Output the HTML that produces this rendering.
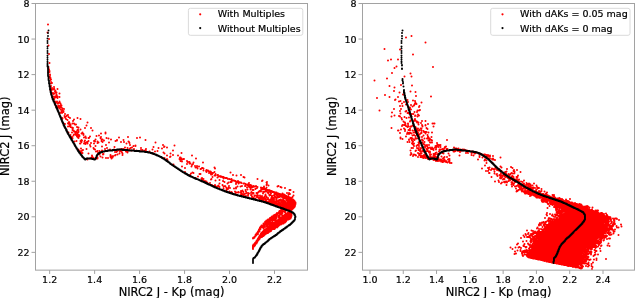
<!DOCTYPE html>
<html><head><meta charset="utf-8"><title>CMD</title>
<style>
html,body{margin:0;padding:0;background:#fff;}
body{width:635px;height:298px;overflow:hidden;}
svg{display:block;}
text{font-family:"DejaVu Sans","Liberation Sans",sans-serif;fill:#000;stroke:#000;stroke-width:0.2px;}
.tk{font-size:9.5px;}
.lg{font-size:9.5px;}
.lb{font-size:11.45px;}
</style></head><body>
<svg width="635" height="298" viewBox="0 0 635 298"><rect width="635" height="298" fill="#ffffff"/><g><path d="M48 24.5h0M47.5 32.5h0M49 39h0M48.5 45.5h0M49 54h0M49.5 63h0M48.5 67h0M48.5 68.5h0M49 69.5h0M49.5 71h0M49.5 72h0M48.5 72.5h0M50 74.5h0M50 76h0M49 77.5h0M50 78h0.5M51 79.5h0M50.5 80h0M51 82h0M52 83h0M51 83.5h0M51 86h0M54 87h0M52 88h0M51 88.5h0M54 88.5h0M51.5 89h0.5M57.5 89h0M52.5 89.5h0M54 89.5h0.5M50.5 90h1M55.5 91h0M55 91.5h0M51 92.5h0.5M56 92.5h0.5M53 93h0M54.5 93.5h0M59.5 93.5h0M53.5 94h0M51.5 94.5h0M56.5 94.5h0M56 96h1M52.5 96.5h0M54 96.5h0M57.5 96.5h0M55.5 97h1M59.5 97h0M57.5 98h0M54 98.5h0.5M53.5 99.5h0.5M55 101.5h0M57 101.5h0M59.5 101.5h0M56.5 102.5h0M58.5 103h0M60 103h0M55 103.5h0M57.5 103.5h0M60.5 103.5h0M55 104.5h0M61 105h0M58.5 105.5h0M61.5 105.5h0M56.5 106h0M60 106h0M59 106.5h0.5M58 107h0M60 107h0M56.5 107.5h0M61.5 107.5h0M59.5 108h0M62.5 108.5h0M57.5 109h0M64 109h0M60.5 109.5h0M62 110h0M63.5 111h0M61.5 111.5h0M61.5 112h0M63 112h0.5M60 113h0M62 113h0M65 114h0M68 115h0M67 115.5h0M64.5 116h0M66 116.5h0M68.5 117h0M65 117.5h0M62.5 118h0M70 118h0M77.5 118h0M62.5 118.5h0M66 119h0M80.5 119h0M74 119.5h0M67.5 120h0M73 121h0M69 122h0M68.5 122.5h0.5M87.5 122.5h0M69.5 123h0M63.5 123.5h0M68 123.5h0M72.5 123.5h0M74 123.5h0M65 124h0M69 124h0M70.5 124.5h0M75 124.5h1M70.5 125.5h0M86.5 125.5h0M69.5 126h0M68 126.5h0M70.5 127h0M77 127h0M72 127.5h0M78.5 127.5h0M73 128h0M85 128h0M91 128h0M72.5 128.5h0M66.5 129.5h0M78 129.5h0M80.5 129.5h0M72.5 130h0M77.5 130h0M73.5 130.5h0M92.5 130.5h0M74 131h0M78.5 131h0M74 131.5h0.5M76.5 131.5h0M75 132h1M78.5 132h0M68 132.5h0.5M72 132.5h0M75.5 132.5h0M82.5 132.5h0M105.5 132.5h0M77.5 133h0M75.5 133.5h0M77.5 133.5h0M81.5 133.5h1M101 133.5h0M105.5 133.5h0M83.5 134h0M74 134.5h0M76 134.5h0.5M78 134.5h0M70.5 135h0M76 135h0.5M79 135h0M83.5 135h0M73.5 135.5h0M99 135.5h0M77 136h0M79.5 136h0M96.5 136h0M77 136.5h2M85.5 136.5h0M90 136.5h0M71 137h1M101 137h0M128 137h0M78 137.5h0M84 137.5h0M119 137.5h0M140 137.5h0M72.5 138h0M78.5 138h0M86 138h0M88.5 138h0.5M100.5 138h0M106.5 138h0M137 138h0M72.5 138.5h0M108.5 138.5h0M95.5 139.5h0M101.5 139.5h1M111 139.5h0M81.5 140h0M117 140h0M123.5 140h0M145.5 140h0M82 140.5h0M85 140.5h0M104 140.5h0M117 140.5h0M76.5 141h0M80.5 141h0M88.5 141h0M94 141h0M101.5 141h0M115.5 141h0M74.5 141.5h0M84.5 141.5h0M95 141.5h0M97.5 141.5h0M128.5 141.5h0M81.5 142h0M87 142h0.5M102.5 142h0M121 142h0M124 142h0M129 142h0M98.5 142.5h0M109 142.5h0M155.5 142.5h0M85.5 143h0M91 143h0M97.5 143h0M129.5 143h0M80 143.5h0.5M84 143.5h0M87.5 143.5h0M94 143.5h0M126.5 143.5h0M85.5 144h0M90 145h0M106 145h0M130 145h0M163 145h0M135.5 145.5h0M174.5 145.5h0M95.5 146h0M133.5 146h0M135.5 146h0M90.5 146.5h0M102 146.5h0M164.5 146.5h0M114.5 147h0M153.5 147h0M164 147h0M125 147.5h0M132 147.5h0M167 147.5h0M93.5 148h0M107 148h0M127.5 148h0M130.5 148h0M141 148h0M158.5 148h0M81 148.5h0M162 148.5h0M86.5 149h0M94 149h0M105 149h0M121.5 149h0M123.5 149h0M129.5 149h0M134 149h0M146 149h0M78.5 149.5h0M95 149.5h0M110 149.5h0M114 149.5h0M120 149.5h0M152.5 149.5h0M83 150h0M117.5 150h1M120.5 150h0M141 150h0M142.5 150h0M82 150.5h0M102 150.5h0M108 150.5h0M117.5 150.5h0M131.5 150.5h0M136.5 150.5h0M145 150.5h0M173 150.5h0M80 151h0M97.5 151h0M99.5 151h0M117.5 151h0M121.5 151h0M127.5 151h0M143 151h0M146 151h0M157.5 151h0M96 151.5h0M120 151.5h0M126 151.5h0M145 151.5h0M149.5 151.5h0M155 151.5h0M81.5 152h0M115 152h0M116.5 152h0M80.5 152.5h0M122 152.5h0M127.5 152.5h0M163.5 152.5h0M82.5 153h0M98 153h0M151.5 153h1M181.5 153h0M81 153.5h0M88.5 153.5h0M119.5 153.5h0M122.5 153.5h0M153 153.5h0M164.5 153.5h0M170.5 153.5h0M103 154h0.5M99.5 154.5h0M103 154.5h0M117.5 154.5h0M110.5 155h0M115.5 155h0M122.5 155h0M173 155h0M92 155.5h0M115 155.5h0M167 155.5h0M178 155.5h0M192 155.5h0M110.5 156h0M113 156h0M100.5 156.5h0M111.5 156.5h0M113 156.5h0M170.5 156.5h0M92.5 157h0M110.5 157h0M170 157h0M91.5 157.5h0M97.5 157.5h0M102.5 157.5h0M112.5 157.5h0M180 157.5h0.5M93.5 158h0M96.5 158h0M106 158h0M108 158h0M164.5 158h0M87.5 158.5h0M90 158.5h0M95.5 158.5h0M97 158.5h0.5M111.5 158.5h0M181.5 158.5h0M196 158.5h0M167 159h0M179.5 159h0M181 159h0M183.5 159h0.5M87.5 159.5h0M167 159.5h0M180 159.5h0M182 159.5h0M167.5 160h0M180.5 161h0M187 161h0M182 161.5h0M187.5 162h0M189 162h0.5M193.5 162.5h0M203 162.5h0M189.5 163.5h1M187 164h0M193 164h0M173.5 164.5h0M192 165h0M195 166h0M197 166h0M182 166.5h0M191.5 166.5h0M199 166.5h0M197 167h0M195.5 167.5h0M214.5 167.5h0M185 168h0M202 168h0.5M197.5 168.5h0M203.5 168.5h0M215 168.5h0M200.5 169h0.5M206.5 170h0M203.5 170.5h0M206.5 170.5h1.5M206 171h0M208.5 171h0M210 171.5h0.5M185 172h0M206.5 172h0M211 172h0M214.5 172h0M192.5 172.5h0M211 172.5h0M230.5 172.5h0M193.5 173h0M209 173h0M210.5 173h0M212.5 173h0.5M191 173.5h0M199.5 174h1M215.5 174h0M211 174.5h1M190 175h0M217.5 175h0.5M233 175h0M241 175h0M214.5 175.5h1M236.5 175.5h0M220 176h0M198 176.5h0M218.5 176.5h0M220 176.5h1.5M212.5 177h0M221 177h0M222.5 177h1M243.5 177h0M217.5 177.5h0M224 177.5h0M244.5 177.5h0M195.5 178h0M202 178h0M225.5 178h1M201.5 178.5h0M223.5 178.5h0M227.5 178.5h0M203.5 179h0M211.5 179h0M228 179h0M229.5 179h0M231.5 179h0M257.5 179h0M202 179.5h0M211 179.5h0M231 179.5h0M219.5 180h0M231.5 180h0M201.5 180.5h0M215.5 180.5h0M232.5 180.5h1.5M262.5 180.5h0M203.5 181h0M205 181h0M223 181h0M235 181h0.5M238 181h0M262 181h0M206.5 181.5h0M236 181.5h0M224.5 182h0M230.5 182h1M237.5 182h1.5M267 182h0M228.5 182.5h0M239.5 182.5h1.5M266.5 182.5h0M207.5 183h0M210 183h0M236 183h0M238.5 183h0M241.5 183h0M249 183h0M219.5 183.5h0M227.5 183.5h0M238.5 183.5h0M243.5 183.5h1M236 184h0M245.5 184h0M267 184h0M247 184.5h1.5M212 185h0M215 185h0M222.5 185h0M247.5 185h0M249 185h1.5M266.5 185h0M218.5 185.5h0M251 185.5h0.5M268.5 185.5h0M214 186h0M218 186h0M225 186h0M229 186h0M242 186h0M245 186h0.5M253.5 186h0M256 186h0M278.5 186h0M216 186.5h0M223.5 186.5h0M225.5 186.5h0M237.5 186.5h0M240.5 186.5h0M248.5 186.5h0M253.5 186.5h1M264 186.5h0M277.5 186.5h0M217 187h0M219.5 187h0M249.5 187h0M251 187h2M257.5 187h0M280.5 187h0M228.5 187.5h0M236 187.5h0M247 187.5h0M252 187.5h0M261 187.5h0M264 187.5h0M266.5 187.5h0M281.5 187.5h0M226.5 188h0M230 188h0M257 188h0M261 188h1.5M264 188h0M285 188h0M223.5 188.5h0M234 188.5h0M236 188.5h0M250.5 188.5h0M255.5 188.5h0M262 188.5h0M227.5 189h0.5M255.5 189h0M264 189h0M265.5 189h0M226.5 189.5h0M247.5 189.5h0M250.5 189.5h0M261.5 189.5h0M263 189.5h0M266 189.5h0.5M245.5 190h0M252.5 190h1M261 190h0M265.5 190h2M269 190h0M289.5 190h1M226.5 190.5h0M242.5 190.5h0M269 190.5h1M241 191h0M259.5 191h0M266.5 191h0.5M269 191h0M270.5 191h1M229.5 191.5h0M235 191.5h0M246 191.5h0M259.5 191.5h0M261 191.5h0M265 191.5h0.5M270.5 191.5h2M231.5 192h0M238.5 192h0M241.5 192h0M243.5 192h0M251.5 192h0M258.5 192h0M263 192h1M269 192h0M270.5 192h0M272.5 192h1.5M293.5 192h0M232 192.5h0M236 192.5h1M238.5 192.5h0M240.5 192.5h0M267.5 192.5h0M274.5 192.5h2M235.5 193h0M246.5 193h0M248 193h0M251 193h0M252.5 193h1M256.5 193h1M274.5 193h2.5M287 193h0M289 193h0M246 193.5h0M249 193.5h0M253 193.5h0.5M257.5 193.5h0M263 193.5h0M268.5 193.5h0M271 193.5h0M274.5 193.5h0.5M277.5 193.5h1M282.5 193.5h0M241.5 194h0M243 194h0M244.5 194h0M275 194h1M278 194h2M282.5 194h0M290 194h0M241 194.5h2M265.5 194.5h0M275.5 194.5h1M280 194.5h4M288.5 194.5h0M243 195h0.5M248 195h0M251 195h0.5M269.5 195h1M274.5 195h0M277 195h0M281.5 195h3M241 195.5h0M248 195.5h0M254.5 195.5h0M256 195.5h2M260 195.5h0M265.5 195.5h0M269.5 195.5h0M273.5 195.5h0M277 195.5h0.5M282 195.5h2M285.5 195.5h0M293.5 195.5h0M244 196h0M246 196h0M254.5 196h0M262 196h0M272 196h0M274.5 196h0M279 196h3M283.5 196h3M245 196.5h0M252 196.5h0M264.5 196.5h0M266.5 196.5h0M272 196.5h0M279.5 196.5h3.5M284.5 196.5h2.5M288.5 196.5h0M252.5 197h0M257 197h0M261 197h1M275.5 197h0M277.5 197h0M279.5 197h0M282 197h0M284 197h4.5M292.5 197h0M248.5 197.5h0M258 197.5h2M264 197.5h0M266.5 197.5h0M271.5 197.5h0M278 197.5h0M283.5 197.5h0M286 197.5h4M252 198h1.5M261 198h0M263 198h0M264.5 198h0M268 198h0M271.5 198h2.5M276.5 198h0M283 198h0M284.5 198h0.5M288.5 198h2.5M254.5 198.5h1M259 198.5h0M262 198.5h0M265.5 198.5h0M283.5 198.5h0M285.5 198.5h0M287 198.5h0M288.5 198.5h0M290 198.5h1.5M263 199h0M268 199h0M271.5 199h0M273 199h1M276 199h0M286.5 199h0M288.5 199h3.5M259.5 199.5h1M264 199.5h0M266 199.5h0M268.5 199.5h0M270.5 199.5h0M272.5 199.5h1M276.5 199.5h0M280.5 199.5h0.5M283 199.5h0M286.5 199.5h0M290 199.5h3M260 200h0M261.5 200h0M266 200h0.5M269 200h0M274 200h0M279.5 200h1M286.5 200h0M288.5 200h1M291.5 200h2M262 200.5h0M263.5 200.5h0M270 200.5h0M272 200.5h0M273.5 200.5h0M276.5 200.5h0M278.5 200.5h0M281 200.5h0M284 200.5h0M286.5 200.5h1M291.5 200.5h0M294 200.5h0M265.5 201h0M269.5 201h0M271 201h0M273 201h1M276 201h0.5M278 201h1M281 201h1.5M287.5 201h0M290.5 201h0.5M292.5 201h2M271.5 201.5h0M274.5 201.5h0M282 201.5h0M283.5 201.5h0M285 201.5h0.5M288.5 201.5h1M291.5 201.5h1M294 201.5h0.5M266.5 202h2.5M271.5 202h0M274 202h1M278.5 202h0M281.5 202h1M284 202h1.5M288 202h0.5M290 202h0.5M293 202h2M269.5 202.5h1M273 202.5h1M276.5 202.5h0M278.5 202.5h1M281.5 202.5h1.5M285 202.5h0.5M287.5 202.5h0M289.5 202.5h0M291 202.5h4.5M268.5 203h1M271 203h0M272.5 203h0M274 203h2.5M280 203h0M283.5 203h2.5M289 203h0.5M291 203h4M271.5 203.5h0M275 203.5h0M277 203.5h0M279.5 203.5h1M284.5 203.5h0.5M286.5 203.5h0.5M290.5 203.5h2M294 203.5h1.5M273.5 204h5.5M285.5 204h0M288.5 204h2.5M292.5 204h3M273 204.5h3M277.5 204.5h1.5M282 204.5h1M287 204.5h3M291.5 204.5h3.5M274.5 205h2.5M280 205h2M283.5 205h3M288 205h2M292 205h1M294.5 205h0.5M276 205.5h3.5M281.5 205.5h0.5M283.5 205.5h0.5M286.5 205.5h4.5M293.5 205.5h1.5M277 206h2M281 206h1M284.5 206h2M289 206h0M290.5 206h0M292 206h0M293.5 206h1.5M278.5 206.5h0M281 206.5h0.5M283 206.5h0M284.5 206.5h1.5M288 206.5h3.5M293.5 206.5h1M280.5 207h3M285 207h4.5M291 207h0.5M293 207h1.5M281 207.5h0M284 207.5h4M289.5 207.5h4.5M282.5 208h11M284 208.5h1M287 208.5h6M282.5 209h0M285 209h5M292 209h0.5M282.5 209.5h0.5M286 209.5h6M281 210h2M286 210h5.5M285 210.5h0M289 210.5h2M279.5 211h0.5M281.5 211h0.5M285 211h0.5M289.5 211h1M281 211.5h0M282.5 211.5h0.5M284.5 211.5h0.5M289.5 211.5h1M279 212h0M281 212h0.5M289 212h2M285 212.5h0M288 212.5h3M277 213h0M278.5 213h0M280 213h0.5M282.5 213h0M288 213h3M278 213.5h0M280.5 213.5h0M286.5 213.5h4.5M276.5 214h0.5M280 214h1.5M286 214h3M290.5 214h1M275.5 214.5h1.5M281 214.5h0M285.5 214.5h3M290.5 214.5h1M274.5 215h1.5M282 215h0M284.5 215h6.5M273.5 215.5h1M276 215.5h0.5M278.5 215.5h1M284 215.5h7.5M273.5 216h1.5M279.5 216h0M283 216h4M288.5 216h3M272 216.5h0M274 216.5h0M276.5 216.5h0M278.5 216.5h0M282.5 216.5h6.5M290.5 216.5h0.5M274.5 217h0M278.5 217h1M282 217h2M286 217h0M289 217h1M271 217.5h0M272.5 217.5h0M274.5 217.5h1.5M281 217.5h10M270 218h2.5M274 218h2.5M280.5 218h2.5M284.5 218h2M289 218h0.5M271 218.5h0M273.5 218.5h0M275.5 218.5h0.5M279.5 218.5h11M269.5 219h1M272 219h1.5M279 219h4M285.5 219h0M287 219h0M289.5 219h0M268 219.5h3.5M278.5 219.5h5M285.5 219.5h3M268 220h0M270.5 220h4.5M278 220h0.5M281 220h0.5M285.5 220h0.5M266.5 220.5h0M269 220.5h0M272 220.5h0M276 220.5h1.5M279 220.5h1M282.5 220.5h4M266.5 221h2M270.5 221h0M276.5 221h8.5M265.5 221.5h0.5M267.5 221.5h2.5M272.5 221.5h0M276 221.5h2.5M280 221.5h0M281.5 221.5h0M284 221.5h0.5M286 221.5h0M265 222h0M269 222h0M275 222h1.5M278 222h0M281.5 222h1M285 222h0M267 222.5h0.5M274.5 222.5h10.5M265.5 223h1M269 223h0M271 223h0M273.5 223h3M278 223h0M281 223h1M263.5 223.5h0M267.5 223.5h0.5M270 223.5h0M272 223.5h4.5M278 223.5h0.5M280.5 223.5h3M265 224h0.5M267 224h0M272 224h4M278 224h3.5M264 224.5h1.5M267.5 224.5h1M271.5 224.5h2.5M275.5 224.5h5.5M264 225h0.5M269.5 225h4.5M276 225h0M279 225h0M261.5 225.5h3M270 225.5h3.5M275 225.5h4M261.5 226h2M266.5 226h1M269.5 226h3M274 226h4M261 226.5h0.5M264 226.5h0M269 226.5h7.5M278 226.5h0M260.5 227h0M262 227h0M265 227h0M268 227h7.5M260 227.5h1M263 227.5h0M267.5 227.5h5M274 227.5h0.5M277 227.5h0M260 228h0M267 228h2.5M271.5 228h1M274.5 228h0M260 228.5h0.5M263.5 228.5h0M266.5 228.5h3M271 228.5h2.5M275 228.5h0M259.5 229h1M266 229h2.5M270 229h4.5M259 229.5h0.5M265 229.5h4.5M271 229.5h1M259 230h0M264.5 230h3.5M270.5 230h0.5M259 230.5h0.5M264 230.5h5.5M271 230.5h0M258.5 231h0M263.5 231h0.5M265.5 231h3.5M270.5 231h0.5M258 231.5h0M259.5 231.5h0M263 231.5h1.5M266.5 231.5h3.5M258 232h0M262.5 232h6.5M257.5 232.5h0.5M262 232.5h6M257.5 233h0M261.5 233h6.5M256.5 233.5h0.5M261 233.5h5.5M256.5 234h0M258 234h0M261 234h4.5M256 234.5h0.5M260.5 234.5h2.5M255.5 235h1M260.5 235h4M255.5 235.5h0.5M260 235.5h3.5M255.5 236h0M259.5 236h4M255 236.5h0M259.5 236.5h2.5M254.5 237h0M259 237h3M253.5 237.5h1M259 237.5h1.5M253 238h1M258.5 238h1.5M253 238.5h0M258 238.5h1.5M258 239h1.5M257.5 239.5h1.5M257.5 240h1M257 240.5h1M256.5 241h1M256.5 241.5h1M256 242h1M255.5 242.5h1.5M255 243h1.5M255 243.5h1.5M254.5 244h1M253.5 244.5h1.5M253.5 245h1.5M253 245.5h2M253 246h1M253 246.5h1M253 247h0M253 247.5h0M253 248h0M253 248.5h0M253 249h0" stroke="#ff0000" stroke-width="2.00" stroke-linecap="round" fill="none"/><path d="M48.5 30.5h0M48 33h0M48 36h0M47.5 38.5h0M47.5 41h0M47.5 43h0M47.5 46.5h0M47.5 48.5h0M47.5 51h0M47.5 53h0M47.5 55.5h0M47.5 57.5h0M47.5 59.5h0M47.5 61.5h0M47.5 63h0M47.5 64h0M47.5 64.5h0M47.5 65h0M47.5 65.5h0M47.5 66h0M47.5 66.5h0.5M48 67h0M48 67.5h0M48 68h0M48 68.5h0M48 69h0M48 69.5h0M48 70h0M48 70.5h0M48 71h0M48 71.5h0M48 72h0M48 72.5h0M48 73h0M48 73.5h0M48 74h0M48 74.5h0M48 75h0M48 75.5h0M48 76h0M48.5 76.5h0M48.5 77h0M48.5 77.5h0M48.5 78h0M48.5 78.5h0M48.5 79h0M48.5 79.5h0M48.5 80h0M49 80.5h0M49 81h0M49 81.5h0M49 82h0M49 82.5h0M49 83h0M49 83.5h0.5M49.5 84h0M49.5 84.5h0M49.5 85h0M49.5 85.5h0M49.5 86h0M49.5 86.5h0.5M50 87h0M50 87.5h0M50 88h0M50 88.5h0M50 89h0M50 89.5h0.5M50.5 90h0M50.5 90.5h0M50.5 91h0M50.5 91.5h0M50.5 92h0.5M51 92.5h0M51 93h0M51 93.5h0M51 94h0.5M51.5 95h0M51.5 95.5h0M52 96h0M52 96.5h0M52 97h0M52 97.5h0.5M52.5 98h0M52.5 98.5h0M52.5 99h0.5M53 99.5h0M53 100h0.5M53.5 100.5h0M53.5 101h0M53.5 101.5h0.5M54 102h0M54.5 102.5h0M54.5 103h0M54.5 103.5h0.5M55 104h0M55 104.5h0M55.5 105h0M55.5 105.5h0M56 106h0M56 106.5h0M56 107h0.5M56.5 107.5h0M56.5 108h0.5M57 108.5h0M57 109h0.5M57.5 109.5h0M57.5 110h0M57.5 110.5h0.5M58 111h0M58 111.5h0.5M58.5 112h0M58.5 112.5h0M59 113h0M59 113.5h0M59 114h0.5M59.5 114.5h0M59.5 115h0M60 115.5h0M60 116h0M60 116.5h0.5M60.5 117h0M60.5 117.5h0.5M61 118h0M61 118.5h0M61 119h0.5M61.5 119.5h0M61.5 120h0.5M62 120.5h0M62 121h0M62 121.5h0.5M62.5 122h0M62.5 122.5h0.5M63 123h0M63 123.5h0.5M63.5 124h0M63.5 124.5h0M63.5 125h0.5M64 125.5h0M64 126h0.5M64.5 126.5h0M64.5 127h0.5M65 127.5h0M65 128h0.5M65.5 128.5h0M66 129h0M66 129.5h0M66 130h0.5M66.5 130.5h0M66.5 131h0.5M67 131.5h0M67 132h0.5M67.5 132.5h0M67.5 133h0.5M68 133.5h0M68 134h0.5M68.5 134.5h0M69 135.5h0.5M69.5 136h0M69.5 136.5h0.5M70 137h0M70 137.5h0.5M70.5 138h0.5M71 138.5h0M71 139h0.5M71.5 139.5h0M71.5 140h0.5M72 140.5h0M72.5 141h0M72.5 141.5h0.5M73 142h0M73 142.5h0.5M73.5 143h0M74 143.5h0M74 144h0.5M74.5 144.5h0M74.5 145h0.5M75 145.5h0M75 146h0.5M75.5 146.5h0M76 147h0M76 147.5h0.5M76.5 148h0M76.5 148.5h0.5M77 149h0M77.5 149.5h0M117 149.5h5.5M77.5 150h0.5M112.5 150h4M122.5 150h5.5M78 150.5h0M108 150.5h4.5M128.5 150.5h5.5M78 151h0.5M105 151h2.5M134.5 151h5M78.5 151.5h0.5M103 151.5h1.5M139.5 151.5h5M79 152h0M101 152h1.5M145 152h3M79 152.5h0.5M100 152.5h1M148 152.5h2M79.5 153h0.5M99 153h1M150.5 153h1.5M80 153.5h0M98.5 153.5h0.5M152 153.5h1.5M80.5 154h0M98 154h0.5M153.5 154h1M80.5 154.5h0.5M97.5 154.5h0M155 154.5h1M81 155h0.5M97 155h0.5M156 155h1M81.5 155.5h0.5M97 155.5h0M157 155.5h1M82 156h0M96.5 156h0.5M158.5 156h0.5M82 156.5h0.5M96.5 156.5h0M159.5 156.5h0.5M82.5 157h0.5M96.5 157h0M160.5 157h1M83 157.5h0.5M96 157.5h0M161.5 157.5h0.5M84 158h0M96 158h0M162 158h1M84 158.5h0.5M86.5 158.5h5M95.5 158.5h0.5M163 158.5h0.5M84.5 159h2M92 159h1.5M95.5 159h0M164 159h0.5M85 159.5h0.5M94 159.5h1M164.5 159.5h0.5M165.5 160h0.5M166 160.5h0.5M166.5 161h1M167.5 161.5h0.5M168 162h0.5M169 162.5h0.5M169.5 163h0M170 163.5h0.5M170.5 164h0.5M171.5 164.5h0.5M172 165h0.5M173 165.5h0.5M173.5 166h0.5M174.5 166.5h0.5M175 167h0.5M176 167.5h0.5M176.5 168h0.5M177.5 168.5h0.5M178 169h0.5M179 169.5h0.5M179.5 170h0.5M180.5 170.5h0.5M181 171h0.5M182 171.5h0.5M182.5 172h0.5M183.5 172.5h0.5M184.5 173h0.5M185 173.5h1M186 174h1M187 174.5h0.5M187.5 175h1M188.5 175.5h1M189.5 176h1M190.5 176.5h1M192 177h0.5M193 177.5h0.5M194 178h1M195 178.5h1M196 179h1M198 179.5h0.5M199 180h0.5M200 180.5h1M201 181h1M202 181.5h1M203.5 182h1M204.5 182.5h1M205.5 183h1M206.5 183.5h1M207.5 184h1M208.5 184.5h1M210 185h1M211 185.5h0.5M212 186h1M213 186.5h1M214 187h1M215 187.5h1M216.5 188h0.5M217.5 188.5h1M219 189h0.5M220 189.5h1M221.5 190h1M222.5 190.5h1.5M224 191h1M225 191.5h1.5M226.5 192h1.5M228 192.5h1.5M229.5 193h1.5M231 193.5h1.5M232.5 194h1.5M234 194.5h1.5M236 195h1.5M237.5 195.5h1.5M239.5 196h2M241.5 196.5h1.5M243.5 197h2M245.5 197.5h2M247.5 198h1.5M249.5 198.5h1.5M251.5 199h2M253.5 199.5h2M255.5 200h1.5M257.5 200.5h2M259.5 201h2M261.5 201.5h1.5M263.5 202h1.5M265 202.5h1.5M266.5 203h1.5M268 203.5h1M269.5 204h1M270.5 204.5h1.5M272 205h1.5M273.5 205.5h1M275 206h1M276 206.5h1.5M277.5 207h1M279 207.5h1.5M280.5 208h1.5M282 208.5h1.5M283.5 209h1M285 209.5h1M286 210h1M287.5 210.5h1.5M289 211h1M290 211.5h1M291.5 212h0.5M292 212.5h1M293 213h0.5M293.5 213.5h0.5M294 214h0.5M294.5 214.5h0M294.5 215h0.5M295 215.5h0M295 216h0M295.5 216.5h0M295.5 217h0M295 217.5h0M295 218h0M295 218.5h0M295 219h0M295 219.5h0M294.5 220h0M294 220.5h0.5M293.5 221h0.5M293 221.5h0.5M292.5 222h0.5M292 222.5h0.5M291.5 223h0.5M291 223.5h0.5M290.5 224h0.5M290 224.5h0M289 225h1M288.5 225.5h0.5M288 226h0M287 226.5h0.5M286.5 227h0.5M285.5 227.5h1M285 228h0.5M284.5 228.5h0.5M283.5 229h0.5M283 229.5h0.5M282 230h1M281.5 230.5h0.5M280.5 231h1M280 231.5h0.5M279.5 232h0.5M279 232.5h0.5M278 233h0.5M277.5 233.5h0.5M277 234h0.5M276.5 234.5h0.5M275.5 235h1M275 235.5h0.5M274 236h1M273.5 236.5h0.5M272.5 237h0.5M272 237.5h0.5M271 238h0.5M270.5 238.5h0.5M269.5 239h0.5M269 239.5h0.5M268.5 240h0.5M268 240.5h0.5M267.5 241h0.5M267 241.5h0.5M266.5 242h0M265.5 242.5h0.5M265 243h0.5M264.5 243.5h0.5M263.5 244h1M263 244.5h0.5M262.5 245h0.5M262 245.5h0.5M261.5 246h0.5M261.5 246.5h0M261 247h0.5M260.5 247.5h0.5M260.5 248h0M260 248.5h0.5M260 249h0M259.5 249.5h0.5M259.5 250h0M259 250.5h0.5M259 251h0M258.5 251.5h0.5M258.5 252h0M258 252.5h0M257.5 253h0.5M257.5 253.5h0M257 254h0.5M257 254.5h0M256.5 255h0.5M256 255.5h0.5M256 256h0M255.5 256.5h0M255 257h0M254.5 257.5h0.5M253.5 258h0.5M253.5 258.5h0M253 259h0M253 259.5h0M253 260h0M253 260.5h0M253 261h0M253 261.5h0M253 262h0M253 262.5h0M253 263h0" stroke="#000000" stroke-width="1.90" stroke-linecap="round" fill="none"/></g><g><path d="M411.5 36h0M406 37.5h0M425.5 42.5h0M384.5 49h0M400 49.5h0M413 54.5h0M391 59.5h0M398 59.5h0M388 60.5h0M396.5 66.5h0M433 67h0M394.5 68h0M392 73h0M410.5 73.5h0M404.5 76.5h0M411.5 76.5h0M387 78.5h0M374.5 80.5h0M401 85h0M412 85.5h0M389.5 86h0M394.5 87.5h0M394 91h0M410.5 91.5h0M415.5 92h0M399.5 92.5h0M403 94.5h0M385 95h0M416 96h0M431 96.5h0M389.5 97h0M398 97h0M377 98h0M395.5 99.5h0M395 100h0M407.5 100h0M413 100.5h0M400.5 101h0M415 101h0M399 101.5h0M404 102h0M408 102h0M415.5 102.5h0M421.5 102.5h0M402 103.5h0M415 103.5h0M416.5 104h0M406 104.5h0M414.5 104.5h0M411 105h0M414 105.5h0M400 106h0M402.5 106h0M419.5 106h0M412.5 106.5h0M408.5 107h0M419 107h0M410 107.5h0M394 109h0M401 109h0M410 109h0M411 109.5h0M420 110h0M379.5 110.5h0M417.5 110.5h0M419 110.5h0M400 111h0M406.5 111h0M405.5 111.5h0M414.5 112h0M417 112h0M392 112.5h0M407.5 113h1M400.5 113.5h0M409.5 114h0M412 114h0M413.5 114h0M411 114.5h0M418 114.5h0M411 115h0M394.5 115.5h0M415.5 115.5h0M419 115.5h0M399 116h0M415 116h0M391.5 116.5h0M400 116.5h0M411.5 116.5h0M417.5 116.5h0M404.5 117h0M409 117.5h0M401.5 118h0M406.5 118h0M415 119h0M402 119.5h0M414.5 120h0M410.5 120.5h0M415.5 120.5h0M414 121h0M422 121h0M425.5 121h0M403.5 121.5h0M410 121.5h0M416.5 121.5h0.5M417.5 122h0M404.5 122.5h0.5M417 122.5h1.5M421 123h0M408 123.5h0M432.5 123.5h0M434 123.5h0.5M405.5 124h0M428 124h0M418.5 124.5h0M402.5 125h0M404 125h1M408 125h0M422 125h0M425.5 125h0M412.5 125.5h0.5M425.5 125.5h0M402 126h0M406 126h0M422.5 126h0M408.5 126.5h0M410.5 126.5h1M422.5 126.5h0M433.5 126.5h0M407.5 127h0M415.5 127h0M415 127.5h0M391.5 128h0M426.5 128h0M404 128.5h0M410 128.5h0M416.5 128.5h0M418 128.5h0M420.5 128.5h1M417 129h0M427.5 129h0M401 129.5h0M405 129.5h0M416.5 129.5h0M408.5 130h0M410 130h0M419.5 130h0M398 130.5h0.5M410 130.5h0M412.5 130.5h0M414.5 130.5h0M418 130.5h0M419.5 130.5h0M421.5 130.5h0M405 131h0M417.5 131h0M423.5 131h0M416.5 131.5h0M424 132h2.5M407.5 132.5h0M413.5 132.5h0M415 132.5h0M418 132.5h0M421.5 132.5h0M428.5 132.5h0M432 132.5h0M400 133h0M408.5 133h2M418 133h0M421.5 133h0M409.5 133.5h0M411.5 133.5h0M416.5 133.5h0M420.5 133.5h0M425.5 133.5h0M407 134h0M409 134h0M417 134.5h1M419.5 134.5h0M414 135h0M419 135h0M427.5 135h0M412.5 135.5h0M423.5 135.5h0M415.5 136h0M406 136.5h0M428 136.5h0M419.5 137h0M422 137h0M428 137h0M431.5 137h0M400.5 137.5h0M428.5 137.5h0M410.5 138h1M415.5 138h0M400.5 138.5h0M412.5 138.5h0M416 138.5h1M424.5 138.5h0M427 138.5h1M429.5 138.5h0M402.5 139h0M430 139h0M409 139.5h0M411.5 139.5h0M414 139.5h0M422 139.5h0M409 140h0M414.5 140h0M422 140h0M431.5 140h0M447 140h0M412 140.5h0M423 140.5h0M428.5 140.5h1M432 140.5h0M419.5 141h0M413 141.5h0M407.5 142h0M409.5 142h0M424.5 142h0M412.5 142.5h0M418.5 142.5h0M422.5 142.5h0M430 142.5h0.5M432 142.5h0M420 143h0M437 143h0M412 143.5h0M414 143.5h0M419 143.5h0M419 144h0M423.5 144h0M413 144.5h0.5M424.5 144.5h0M437.5 144.5h0M417.5 145h0M427 145h0M429 145h0M439 145h0M440.5 145h0M425.5 145.5h0M437 145.5h0M439 145.5h0M414 146h0M416.5 146h0M419 146h0M425.5 146h0M427 146h0M435.5 146h0M425 146.5h0M437 146.5h0M446 146.5h0M427.5 147h0M438.5 147h0M440.5 147h0M445 147h0.5M425 147.5h0M430 147.5h0M432 147.5h0M435 147.5h0M454 147.5h0M411.5 148h0M413 148h0M417 148h0M419 148h0M421 148h0M428.5 148h0M436 148h0M444.5 148h0M421 148.5h0M433 148.5h0M455.5 148.5h1M458.5 148.5h0M418.5 149h0M426.5 149h0.5M431 149h1M433.5 149h0M442.5 149h0M444 149h0M446.5 149h1M457 149h0M427 149.5h0.5M436 149.5h0M439.5 149.5h0M441 149.5h0M460.5 149.5h0M462.5 149.5h0M464 149.5h0M418.5 150h0M420 150h0M433.5 150h0M443.5 150h0M454 150h0M458.5 150h0M465 150h0M410.5 150.5h0M416 150.5h0M422.5 150.5h0.5M439.5 150.5h0M456 150.5h0M459.5 150.5h0.5M463 150.5h0M467 150.5h0M415.5 151h0M420 151h0M427 151h1M439.5 151h0M455.5 151h0M458 151h0M468.5 151h1M421 151.5h0M423 151.5h1M425.5 151.5h0M429.5 151.5h0.5M439 151.5h0M453.5 151.5h1M460.5 151.5h0M467.5 151.5h0M472 151.5h0.5M460 152h0M474.5 152h0M429 152.5h1M436.5 152.5h0M472.5 152.5h0M474.5 152.5h0.5M476.5 152.5h0M411 153h0M418 153h0M421 153h0M435.5 153h0M442.5 153h0M466 153h0M468 153h0M471.5 153h0M475 153h0M420 153.5h0M421.5 153.5h0M425.5 153.5h0M443.5 153.5h0M448.5 153.5h0M474.5 153.5h0.5M478.5 153.5h0M480 153.5h0M411.5 154h0M419.5 154h0M425.5 154h0M433.5 154h1M438 154h0.5M481.5 154h0M414 154.5h0M430 154.5h1M435 154.5h0.5M437.5 154.5h1M484 154.5h1M410.5 155h0M413.5 155h0M415.5 155h0M419 155h0.5M424 155h0M430 155h0M434 155h0M471.5 155h0M486.5 155h0M488 155h0M416 155.5h0M420.5 155.5h0M423.5 155.5h0M433.5 155.5h0M449.5 155.5h0M459.5 155.5h0M473.5 155.5h0M483.5 155.5h1M487 155.5h0M490 155.5h0M413 156h0M421.5 156h0.5M425.5 156h0M479.5 156h0M484.5 156h0M487 156h0M489.5 156h0M493 156h0M422 156.5h2M430.5 156.5h0M435 156.5h0M441.5 156.5h0M489.5 156.5h0.5M418 157h0M420.5 157h1M423.5 157h4M430 157h1M433 157h0M436 157h0M444.5 157h0M447 157h0M479.5 157h0M488 157h0M422.5 157.5h2M426.5 157.5h0M428.5 157.5h0.5M431 157.5h0M433.5 157.5h0M437 157.5h0M482.5 157.5h0M485.5 157.5h0M500.5 157.5h0M423.5 158h0M425.5 158h0M427 158h0.5M429 158h0M431 158h1.5M434 158h0M435.5 158h0M437.5 158h1M443.5 158h0M428.5 158.5h5.5M443 158.5h0M490 158.5h0M493 158.5h0M428 159h0M431.5 159h0M433 159h3.5M449 159h0.5M492 159h0M435 159.5h0M436.5 159.5h1M439 159.5h0M440.5 159.5h0.5M444.5 159.5h0M448 159.5h0M478 159.5h0M485 159.5h0M492.5 159.5h1M433.5 160h0M435 160h0M439 160h1.5M495 160h0M436.5 160.5h0.5M441 160.5h1.5M444 160.5h0M449.5 160.5h0M484.5 160.5h0M486.5 160.5h0M436 161h0M437.5 161h0M439 161h0M443.5 161h1M446 161h0M441 161.5h0M443 161.5h1M445.5 161.5h1M449 161.5h0M442.5 162h0.5M446 162h0M449.5 162h0M447.5 162.5h0M450 163h0M451.5 163h0M486.5 163h0M492.5 163h0M485 165.5h0M500.5 166.5h0M511 167h0M489.5 167.5h0M495.5 167.5h0M501.5 167.5h0M488 168h0M512.5 168h0M482 168.5h0M492 168.5h0M493 169h0M495 169h0M499 169h0M507 169h0M489 169.5h0M494 169.5h0M497 169.5h0M491 170h0M497 170h0M514 170h0M517 170h0M498.5 170.5h0M486 171h0M488 171h0M501.5 171h0M513.5 171h0M494.5 171.5h0M500.5 171.5h0M506.5 171.5h0M514.5 171.5h0M505.5 172h0M520.5 172h0M504.5 172.5h0M489 173h0.5M511.5 173h0M514.5 173h0M494.5 173.5h0M501 173.5h0M506 173.5h0M512.5 173.5h0M514 173.5h0M497 174h0M503.5 174h0M508.5 174h0M510.5 174h0M496.5 174.5h0M499.5 175h0M506 175h0M500 175.5h2M503.5 175.5h0M507 175.5h0M509.5 175.5h0M518 175.5h0M497.5 176h0M502.5 176h0M504.5 176h0M506 176h0M509 176h0M512.5 176h0M500.5 176.5h0M506.5 176.5h0M511.5 176.5h0M491.5 177h0M505.5 177h0M513.5 177h0M516.5 177h1M502 177.5h0M507.5 177.5h0M513.5 177.5h0M500 178h0M508 178h0M512 178h0M501 178.5h0M504 178.5h0M510 178.5h1M512.5 178.5h0M504.5 179h0M509 179h0M512 179h0M514 179h0M517 179h0M503 179.5h0M510 179.5h0M515.5 179.5h0M519 179.5h0M512.5 180h0M514 180h0M498.5 180.5h0M510 180.5h0M514 180.5h0M516 180.5h1.5M524 180.5h0M508.5 181h0M495 181.5h0M505 181.5h0M506.5 181.5h0M514.5 181.5h0.5M519 181.5h0M521 181.5h0M499 182h0M504 182h0M512 182h0M515.5 182h0M522.5 182h0M502 182.5h0M505 182.5h0M507 182.5h0M511.5 182.5h0M518.5 183h0M526.5 183h0M501 183.5h0M513 183.5h1M524 183.5h0M529 183.5h0M534 183.5h0M519 184h1.5M523 184h0M528 184h0M529.5 184h0M511.5 184.5h0M519.5 184.5h0M524 184.5h0M527 184.5h1M530.5 184.5h0M506.5 185h0M513.5 185h0M518 185h0.5M522.5 185h1M526 185h0.5M522.5 185.5h0M525.5 185.5h0M528.5 185.5h0M532.5 185.5h0M536.5 185.5h0M516.5 186h0M519.5 186h2.5M526 186h0M530 186h1M512 186.5h0M515 186.5h0M518.5 186.5h0M520.5 186.5h0.5M528 186.5h0M519 187h0M524 187h0M528 187h0M529.5 187h0.5M537 187h0M521.5 187.5h0M525.5 187.5h0M528.5 187.5h1M533.5 187.5h0M537.5 187.5h0M521.5 188h0M524 188h0M529 188h0M531.5 188h1M535 188h0M538 188h1M516 188.5h0M520 188.5h0M521.5 188.5h0M523 188.5h3M527.5 188.5h0M529.5 188.5h0M531 188.5h1M537.5 188.5h0M525 189h0M528 189h0M533 189h0M541.5 189h0M519.5 189.5h0M521 189.5h1.5M529 189.5h1M536.5 189.5h0M518.5 190h0M522.5 190h0M527.5 190h2.5M531.5 190h0.5M517 190.5h0M521.5 190.5h0M525 190.5h0M528.5 190.5h1.5M535.5 190.5h0M517.5 191h0M523 191h0M525.5 191h0M527 191h0.5M529.5 191h0.5M531.5 191h0.5M535 191h0M539 191h0M541.5 191h0M516.5 191.5h0M522 191.5h0M528 191.5h0.5M531 191.5h0M532.5 191.5h0M534.5 191.5h0M536.5 191.5h0M540 191.5h0M544.5 191.5h0M524 192h1M527 192h1.5M530.5 192h1M533 192h0M534.5 192h0M540.5 192h0M524.5 192.5h0M526.5 192.5h0M530 192.5h1.5M535.5 192.5h4M547 192.5h0M527.5 193h1M530 193h1M533 193h0M534.5 193h0.5M538 193h0M525 193.5h1M527.5 193.5h0M530 193.5h0M531.5 193.5h1M534 193.5h3.5M539 193.5h0.5M546 193.5h0M528.5 194h0M531.5 194h4M538 194h1M542 194h1.5M530 194.5h1.5M533 194.5h0.5M535 194.5h4.5M541.5 194.5h1M545.5 194.5h1M533 195h9.5M544.5 195h2.5M552.5 195h0M554 195h0M531 195.5h0M534 195.5h3.5M539 195.5h4.5M545 195.5h1M548 195.5h0M530 196h0M535 196h12M549 196h0M554 196h0M535.5 196.5h0M537.5 196.5h10M549 196.5h1M536.5 197h0M539 197h10M551 197h0M553 197h0M536.5 197.5h2.5M540.5 197.5h0M542 197.5h9.5M555 197.5h0M540 198h0M542 198h13.5M559.5 198h0M543 198.5h1.5M546 198.5h9M557.5 198.5h1M542.5 199h16.5M560.5 199h0M562 199h0M570 199h0M542.5 199.5h0M545.5 199.5h16.5M566 199.5h0M541.5 200h2M545 200h0M547.5 200h13.5M563 200h0M545 200.5h1M547.5 200.5h3.5M552.5 200.5h11M566.5 200.5h0M544.5 201h1.5M550.5 201h2.5M555 201h9.5M566 201h2M542 201.5h0M544 201.5h2M547.5 201.5h0M551 201.5h15M567.5 201.5h1.5M543 202h0M546 202h0.5M550 202h0M552 202h17.5M547 202.5h0M550 202.5h0M552 202.5h18M571.5 202.5h0.5M551 203h0M553 203h19.5M575 203h0M548 203.5h0M552 203.5h22.5M548 204h0.5M550.5 204h0M552.5 204h0M554 204h23M579.5 204h0M552 204.5h0M553.5 204.5h1.5M557 204.5h18M576.5 204.5h0.5M578.5 204.5h0.5M580.5 204.5h0.5M552.5 205h0M555 205h24.5M581.5 205h0M555 205.5h0M558 205.5h23.5M549.5 206h0M555.5 206h0M557 206h2M560.5 206h21.5M587 206h0M555 206.5h1M558 206.5h3.5M563 206.5h16M580.5 206.5h0M582 206.5h1M585 206.5h0.5M588 206.5h0M554 207h0M558.5 207h0.5M560.5 207h19.5M582 207h1.5M555.5 207.5h0M557.5 207.5h1M560.5 207.5h0M562 207.5h0M563.5 207.5h16.5M581.5 207.5h1M584 207.5h1M586.5 207.5h1M589.5 207.5h0M592.5 207.5h0M547.5 208h0M557 208h0M559 208h0M561.5 208h0M563 208h20.5M586 208h1.5M559.5 208.5h0M561.5 208.5h0.5M563.5 208.5h23M556 209h1M563 209h24M589 209h0M557 209.5h0M563 209.5h0.5M565 209.5h0M566.5 209.5h20M588 209.5h1M592 209.5h0M556 210h0.5M558 210h0M566 210h0M567.5 210h22.5M591.5 210h0.5M558.5 210.5h4.5M565 210.5h2M568.5 210.5h22.5M595.5 210.5h0M597 210.5h1M560 211h0M563 211h1M566 211h3M570.5 211h23M596 211h0M558.5 211.5h0.5M560.5 211.5h0M562 211.5h0M563.5 211.5h0M565.5 211.5h28.5M556.5 212h1M560.5 212h0M562.5 212h0M566 212h2M570.5 212h27M566 212.5h1M569 212.5h0M570.5 212.5h27.5M547 213h0M558 213h4M565 213h0.5M568 213h0.5M570.5 213h2M574 213h24.5M601 213h1M557.5 213.5h0M560 213.5h0M564 213.5h0M565.5 213.5h5M572 213.5h27.5M602.5 213.5h0M606 213.5h0M550 214h0M557 214h0M560.5 214h0M562 214h0M564 214h1M566.5 214h0.5M569.5 214h32M604 214h0M546.5 214.5h0M552.5 214.5h0M555 214.5h1M560 214.5h0M562 214.5h0.5M564.5 214.5h0M566.5 214.5h2.5M572 214.5h26.5M600 214.5h1.5M552.5 215h0M555.5 215h0M557.5 215h0M561 215h1M564.5 215h10M576 215h5M582.5 215h0M584 215h15.5M601 215h2.5M607 215h0M547 215.5h0M552 215.5h0M555.5 215.5h0.5M559 215.5h0.5M563.5 215.5h0M565 215.5h0M566.5 215.5h24.5M592.5 215.5h3M597 215.5h2.5M601 215.5h3M607 215.5h0M559 216h0M560.5 216h0.5M562.5 216h0M564 216h0M565.5 216h0M570 216h35M607 216h0.5M553.5 216.5h0M558.5 216.5h1M561.5 216.5h3M566 216.5h16M583.5 216.5h20.5M605.5 216.5h2M555 217h0M560.5 217h0M562 217h0.5M564 217h0M566 217h33M601 217h2M606 217h2.5M610 217h0M557 217.5h0M560 217.5h0M561.5 217.5h0M564.5 217.5h0.5M566.5 217.5h4M572 217.5h25M598.5 217.5h1.5M602 217.5h1.5M606 217.5h0.5M610.5 217.5h0M545 218h0M549 218h0M557 218h0M559.5 218h0M562 218h1M565 218h2M568.5 218h33.5M603.5 218h0M605 218h1M607.5 218h0M610 218h0M550.5 218.5h0M556.5 218.5h0.5M559.5 218.5h1M562 218.5h5M569 218.5h3.5M574 218.5h20.5M596.5 218.5h2M600 218.5h0.5M602 218.5h0M604 218.5h0.5M606 218.5h4M613 218.5h0M615 218.5h1.5M548.5 219h0M551 219h0.5M554 219h0M557 219h0M559 219h1M562 219h3M566.5 219h37M605 219h0M607 219h0M611 219h0M617 219h0M552.5 219.5h0M554.5 219.5h1M557 219.5h1M559.5 219.5h0M561 219.5h40.5M603 219.5h0M606 219.5h2.5M610.5 219.5h0.5M614 219.5h0M554.5 220h0.5M556.5 220h0M559 220h1M563.5 220h2M567.5 220h39.5M608.5 220h0M619 220h0M548 220.5h0M549.5 220.5h0M552.5 220.5h0M555 220.5h0M557 220.5h0M558.5 220.5h2M562 220.5h34M598 220.5h4.5M604.5 220.5h2.5M614 220.5h0M548.5 221h2.5M552.5 221h0M554.5 221h0.5M557.5 221h2.5M562 221h0.5M564 221h32.5M598 221h0.5M600.5 221h6M611 221h0M614 221h0.5M546.5 221.5h0M552 221.5h2M556 221.5h3.5M563.5 221.5h2M567.5 221.5h38.5M608 221.5h1M611.5 221.5h0M543.5 222h0M545.5 222h0.5M552.5 222h0M554.5 222h4M560 222h1.5M563 222h38M602.5 222h0M604.5 222h0.5M608 222h0M612 222h0M542 222.5h0M550.5 222.5h1M554.5 222.5h0M557 222.5h2M560.5 222.5h0.5M562.5 222.5h40M606.5 222.5h0M614 222.5h0M540 223h0M542 223h0M549 223h0M551.5 223h0M553.5 223h0M555.5 223h0M557 223h0.5M559 223h38.5M599 223h0.5M601 223h0M607 223h1.5M614.5 223h0M544.5 223.5h0.5M550 223.5h0M551.5 223.5h2.5M556 223.5h2M559.5 223.5h2M563 223.5h37M602.5 223.5h1M606 223.5h0M608.5 223.5h0M611 223.5h0M544 224h0.5M550 224h0M552 224h2M558 224h40.5M600.5 224h1M603.5 224h0.5M605.5 224h2.5M613 224h0M615 224h0M539 224.5h0M540.5 224.5h0M546 224.5h0M548.5 224.5h0M552 224.5h2M556.5 224.5h0M558 224.5h19M578.5 224.5h15.5M596 224.5h2.5M600.5 224.5h1M603.5 224.5h3M608 224.5h0M613 224.5h0M621 224.5h0M541 225h0M543.5 225h0M547.5 225h0M549 225h1M552 225h0M555 225h47M604 225h0M606 225h0M608.5 225h1M613.5 225h0M539 225.5h0M544.5 225.5h0M547 225.5h0M549 225.5h2M553.5 225.5h0.5M555.5 225.5h3M560 225.5h34.5M596 225.5h4M601.5 225.5h2.5M607.5 225.5h1M612.5 225.5h0M544.5 226h0M548 226h1.5M551 226h0M552.5 226h41.5M595.5 226h7.5M607.5 226h0M611 226h0M612.5 226h0.5M616.5 226h0M546.5 226.5h0M548.5 226.5h1.5M551.5 226.5h55.5M609.5 226.5h0M621.5 226.5h0M542.5 227h0M546 227h0M547.5 227h0M550.5 227h2M554.5 227h40.5M596.5 227h4.5M602.5 227h2.5M606.5 227h0M609.5 227h0M537.5 227.5h0M545 227.5h1M548.5 227.5h1M551 227.5h0M552.5 227.5h0.5M554.5 227.5h42M598 227.5h0.5M600 227.5h0M602.5 227.5h0M604 227.5h0.5M606 227.5h1M611.5 227.5h0M617 227.5h0M618.5 227.5h0M546 228h0M548 228h0M550 228h2M554 228h46.5M604.5 228h0M610 228h0M612 228h0M537 228.5h0M546 228.5h0M548 228.5h0M549.5 228.5h54M606 228.5h0M607.5 228.5h1M611 228.5h1M539 229h0M541 229h0M544 229h0M545.5 229h1M549.5 229h0M553 229h0.5M555 229h45.5M602 229h0M605 229h1.5M608.5 229h0M611 229h0M542.5 229.5h2M547 229.5h0.5M549.5 229.5h1M552 229.5h47.5M602.5 229.5h3M608 229.5h0M610 229.5h0M611.5 229.5h0M615 229.5h0M543 230h0.5M546 230h0M548 230h50M599.5 230h3M605.5 230h0M607.5 230h0M609 230h0M613 230h0M527 230.5h0M531.5 230.5h0M539 230.5h0M542.5 230.5h0M545.5 230.5h4.5M552 230.5h0.5M554 230.5h45M600.5 230.5h2M605 230.5h1M533 231h0M543 231h0.5M545.5 231h0M548 231h0M549.5 231h0M551.5 231h1.5M554.5 231h32.5M589 231h11M602.5 231h1M606 231h0M609 231h0M535 231.5h0M537.5 231.5h1.5M542 231.5h0M545 231.5h0M547 231.5h0M548.5 231.5h1.5M552.5 231.5h41M596.5 231.5h0.5M598.5 231.5h1M601.5 231.5h0M603 231.5h0M604.5 231.5h0.5M613.5 231.5h1M540 232h6.5M548 232h49M599 232h3.5M604 232h0M607 232h0M533.5 232.5h0M536.5 232.5h1M539 232.5h0M541 232.5h1M544.5 232.5h0M547.5 232.5h1M550 232.5h0.5M552 232.5h43M596.5 232.5h0.5M598.5 232.5h0M600.5 232.5h1M603.5 232.5h1.5M607.5 232.5h0.5M610.5 232.5h0M528.5 233h0M535 233h1M540 233h2M543.5 233h0M546 233h0M548.5 233h46.5M597.5 233h0M599 233h0.5M601 233h2.5M607.5 233h1.5M532.5 233.5h0M534 233.5h0M536.5 233.5h0M538.5 233.5h0M541.5 233.5h0M543 233.5h0M545 233.5h1M549.5 233.5h42.5M594.5 233.5h7M604 233.5h0M605.5 233.5h0M609.5 233.5h0M613.5 233.5h0M525.5 234h0M528 234h0M531 234h0M541 234h0M544.5 234h1.5M548 234h49.5M599.5 234h1.5M603.5 234h0M532 234.5h1M538 234.5h0M540 234.5h1M542.5 234.5h0.5M544.5 234.5h43.5M590 234.5h4M595.5 234.5h4M602 234.5h1.5M609 234.5h0.5M611.5 234.5h0M526 235h0M536.5 235h0M541 235h0.5M543 235h48M592.5 235h0M594.5 235h5.5M601.5 235h0M610 235h0M618.5 235h0M523.5 235.5h0M529.5 235.5h1.5M537 235.5h0.5M539.5 235.5h5.5M547 235.5h45.5M594 235.5h0.5M596.5 235.5h0M598.5 235.5h1M601.5 235.5h0M606.5 235.5h0M535 236h0.5M537.5 236h0M539.5 236h0M543.5 236h1M546 236h0.5M548 236h42M591.5 236h1M594 236h1.5M597.5 236h0M599 236h0M600.5 236h0M602 236h0.5M604 236h3M532.5 236.5h0M535.5 236.5h0.5M538.5 236.5h3M544.5 236.5h2.5M548.5 236.5h48M599 236.5h0M601 236.5h2M524.5 237h0M527 237h2M533.5 237h1M537 237h0M540 237h51.5M593 237h0.5M595 237h0M596.5 237h0M601 237h2M605.5 237h0.5M530 237.5h0M533 237.5h1.5M536.5 237.5h1.5M540 237.5h4.5M546 237.5h41M588.5 237.5h3.5M594.5 237.5h0.5M596.5 237.5h0.5M600 237.5h0.5M603.5 237.5h0M605 237.5h0M521 238h0M537.5 238h0M539 238h0M540.5 238h0M542 238h1M544.5 238h3.5M549.5 238h40.5M591.5 238h4.5M598 238h0M600 238h0M603 238h0M604.5 238h0M531 238.5h0M533 238.5h1.5M538 238.5h2.5M542 238.5h44.5M588 238.5h4.5M594.5 238.5h0.5M596.5 238.5h0M600.5 238.5h0M602 238.5h0M609 238.5h1M532.5 239h0M535 239h1M539 239h6M546.5 239h43.5M592 239h4M601 239h0M607 239h0M531 239.5h0M536 239.5h0M540 239.5h0.5M542 239.5h48.5M593.5 239.5h1M599.5 239.5h2M531 240h0M535 240h1.5M538 240h47M586.5 240h6M594.5 240h1M597 240h0M600.5 240h0M604 240h0M533.5 240.5h0.5M535.5 240.5h0M537 240.5h0M538.5 240.5h0.5M541 240.5h46.5M589.5 240.5h6M597.5 240.5h1M601 240.5h0M603.5 240.5h0M526.5 241h0M530.5 241h1M533 241h1.5M537.5 241h1M540 241h47.5M589 241h0.5M591 241h1M593.5 241h0M595 241h0M523 241.5h0M530.5 241.5h0M538 241.5h50M589.5 241.5h0M591 241.5h1M594 241.5h0M596.5 241.5h0M601 241.5h0M531 242h0M534.5 242h1M538 242h49M589 242h1M591.5 242h1M594 242h1.5M597 242h3M531 242.5h0M533.5 242.5h0M535 242.5h7M543.5 242.5h46M591.5 242.5h2.5M598.5 242.5h0M601 242.5h0M534.5 243h0M536 243h7M544.5 243h37.5M583.5 243h2.5M588 243h4M593.5 243h0.5M596 243h0M598 243h0M518 243.5h0M528 243.5h0M533 243.5h0M535 243.5h0M538 243.5h49.5M589 243.5h3M593.5 243.5h0M595 243.5h0M597.5 243.5h2.5M608.5 243.5h0M524.5 244h0M535.5 244h0M537 244h4M542.5 244h5.5M549.5 244h33M584.5 244h2.5M589 244h0M590.5 244h1M594.5 244h0M517 244.5h0M528.5 244.5h0M530 244.5h0M534.5 244.5h2.5M539.5 244.5h49.5M592 244.5h0M593.5 244.5h1M532 245h0M535.5 245h0.5M538 245h0.5M540 245h42M583.5 245h1.5M586.5 245h0M590 245h1.5M595.5 245h0M599 245h0M523.5 245.5h0M530 245.5h0M532 245.5h0M533.5 245.5h0M537.5 245.5h0.5M539.5 245.5h0M541 245.5h43.5M586 245.5h0M587.5 245.5h0.5M589.5 245.5h0.5M593 245.5h0M596 245.5h0M601.5 245.5h0M607.5 245.5h0M523.5 246h0.5M532.5 246h0M534.5 246h0M536 246h3M540.5 246h1.5M543.5 246h37.5M582.5 246h6.5M591 246h0M594 246h0M601 246h0M609.5 246h0M530.5 246.5h4M536.5 246.5h4.5M542.5 246.5h47.5M592.5 246.5h0M594.5 246.5h0.5M598 246.5h0M519.5 247h0M525.5 247h1M530 247h2.5M535 247h7.5M544 247h40M585.5 247h1M588 247h0M590.5 247h0M593.5 247h1.5M596.5 247h0M510.5 247.5h0M515.5 247.5h0M518.5 247.5h0M526 247.5h0M530 247.5h0M533.5 247.5h0M535.5 247.5h4M541 247.5h42.5M585.5 247.5h0M588.5 247.5h0.5M590.5 247.5h0M592 247.5h0M521 248h0M532 248h0M534 248h0.5M536 248h1M539 248h37M578 248h3M583.5 248h1.5M588 248h0M590 248h1.5M595.5 248h0M529 248.5h0M534 248.5h2.5M538 248.5h3.5M543 248.5h37.5M582 248.5h1.5M585 248.5h0.5M587.5 248.5h0M589.5 248.5h1M600 248.5h0M512.5 249h0M533 249h0.5M536 249h1M538.5 249h0M540 249h6M547.5 249h29.5M579 249h4M584.5 249h1.5M588.5 249h0M592 249h0M529.5 249.5h0M531.5 249.5h1M535 249.5h45M582 249.5h0M583.5 249.5h1.5M586.5 249.5h0M588.5 249.5h0M591 249.5h0M520.5 250h0M526.5 250h0M530 250h0M533.5 250h1M536 250h2M540 250h44M588.5 250h0M594.5 250h0M517.5 250.5h0M525 250.5h0M526.5 250.5h1M529 250.5h0M532.5 250.5h0M534 250.5h1.5M537 250.5h43M581.5 250.5h0.5M583.5 250.5h0M585.5 250.5h0M587 250.5h0.5M595.5 250.5h0M520.5 251h0M523.5 251h0M527 251h0M531 251h0M532.5 251h5.5M539.5 251h44.5M588.5 251h0M596 251h0.5M600.5 251h0M515 251.5h0M522.5 251.5h0M525.5 251.5h0.5M530.5 251.5h1M533.5 251.5h0.5M535.5 251.5h7.5M544.5 251.5h36M583.5 251.5h1M587 251.5h0M588.5 251.5h0M591 251.5h0M524 252h3M529.5 252h0M531 252h0M532.5 252h47M581 252h0.5M584.5 252h0.5M586.5 252h0M590 252h0M591.5 252h0M522 252.5h0M524.5 252.5h0M528 252.5h0.5M531.5 252.5h1.5M535 252.5h0M536.5 252.5h2.5M540.5 252.5h40.5M584.5 252.5h2M590 252.5h0M595 252.5h0M522.5 253h0M527.5 253h4M533 253h3M538 253h35.5M575.5 253h0.5M577.5 253h5M585.5 253h0M587 253h0M516 253.5h0M522 253.5h0M527.5 253.5h0M529.5 253.5h0.5M533 253.5h45M579.5 253.5h1M582.5 253.5h0.5M585.5 253.5h0.5M589 253.5h0M591 253.5h0M514.5 254h0M528 254h0M530.5 254h45M577.5 254h4M586 254h0M588.5 254h0M524.5 254.5h0M526 254.5h0M527.5 254.5h0M530.5 254.5h2M535 254.5h34M570.5 254.5h7.5M580 254.5h0.5M584 254.5h0M585.5 254.5h0M587 254.5h0M591 254.5h0M595.5 254.5h0M598 254.5h0M522.5 255h0M526.5 255h2.5M531 255h0M532.5 255h1.5M535.5 255h42M579.5 255h0M581.5 255h0M584.5 255h0M594.5 255h0M527 255.5h0M528.5 255.5h0M530 255.5h0M532 255.5h44.5M578 255.5h3.5M583 255.5h1M586 255.5h0M523 256h0M527 256h2M531 256h45.5M578 256h4M593.5 256h0M527.5 256.5h1M530.5 256.5h45.5M578.5 256.5h0M581 256.5h0M582.5 256.5h0.5M586.5 256.5h0M588 256.5h0M528 257h2M533.5 257h2.5M537.5 257h37M576.5 257h4M582 257h3.5M588.5 257h0M529 257.5h1M533 257.5h46M580.5 257.5h1M584 257.5h1.5M531 258h1M533.5 258h0.5M535.5 258h36.5M573.5 258h7M587.5 258h0M533 258.5h43M578 258.5h1M580.5 258.5h0M582.5 258.5h0M586 258.5h0M596.5 258.5h0M536 259h1M538.5 259h36.5M576.5 259h3M581.5 259h0M583 259h1M606 259h0M538 259.5h36M576 259.5h0.5M578.5 259.5h1M581.5 259.5h0M587 259.5h0M588.5 259.5h0M590.5 259.5h0M594 259.5h0M541 260h41M585 260h1.5M589.5 260h0M596.5 260h0M543 260.5h33.5M578 260.5h1.5M581 260.5h0M544.5 261h0M546 261h31.5M579 261h0.5M581.5 261h2M585 261h1M546.5 261.5h26.5M575 261.5h0M577.5 261.5h5M584.5 261.5h1.5M549 262h27.5M578.5 262h0M581.5 262h0M583 262h1M551.5 262.5h19M572 262.5h5M578.5 262.5h3M588.5 262.5h0M593 262.5h0M553.5 263h20M575.5 263h0.5M578 263h1.5M581.5 263h1.5M556.5 263.5h10.5M568.5 263.5h4M574 263.5h1M576.5 263.5h0.5M579 263.5h0.5M581.5 263.5h0M583 263.5h0M584.5 263.5h0M586 263.5h0M559 264h13.5M574 264h0M578.5 264h1.5M587.5 264h1M591.5 264h0M561.5 264.5h7.5M571 264.5h8.5M581 264.5h0.5M564 265h12M578 265h0M580.5 265h1M567 265.5h7.5M576.5 265.5h1.5M581 265.5h0M589 265.5h0M568 266h0.5M570 266h7.5M582.5 266h0M586 266h0M591.5 266h0M572.5 266.5h3.5M581.5 266.5h1.5M588 266.5h0M573 267h0M575 267h0M577 267h0.5M579 267h0M581 267h1M592.5 267h0M576 267.5h0M578 267.5h1M581 267.5h0M579.5 268h0.5M582 268h0M580.5 268.5h1M592 269h0" stroke="#ff0000" stroke-width="2.00" stroke-linecap="round" fill="none"/><path d="M402.5 30.5h0M402 33h0M402 36h0M402 38.5h0M401.5 41h0M401.5 43h0M401.5 46.5h0M401.5 48.5h0M401.5 51h0M401.5 53h0M401.5 55.5h0M401.5 57.5h0M401.5 59.5h0M401.5 61.5h0M401.5 63h0M402 65h0M402 65.5h0M402 68.5h0M402 69h0M402.5 79h0M402.5 80h0M402.5 80.5h0M403 82h0M403 83.5h0M403.5 86.5h0M404 90h0M404 90.5h0M404 91h0M404 91.5h0M404 92h0M404 92.5h0M404 93h0.5M404.5 93.5h0M404.5 94h0M404.5 94.5h0M404.5 95h0M404.5 95.5h0.5M405 96h0M405 96.5h0M405 97h0M405 97.5h0M405 98h0.5M405.5 98.5h0M405.5 99h0M405.5 99.5h0M406 100h0M406 100.5h0M406 101h0M406.5 101.5h0M406.5 102h0M406.5 102.5h0M407 103h0M407 103.5h0M407 104h0M407 104.5h0.5M407.5 105h0M407.5 105.5h0M408 106h0M408 106.5h0M408 107h0M408.5 107.5h0M408.5 108h0M408.5 108.5h0M408.5 109h0.5M409 109.5h0M409 110h0M409 110.5h0.5M409.5 111h0M409.5 111.5h0M409.5 112h0.5M410 112.5h0M410 113h0M410 113.5h0M410.5 114h0M410.5 114.5h0M410.5 115h0M410.5 115.5h0.5M411 116h0M411 116.5h0M411 117h0.5M411.5 117.5h0M411.5 118h0M411.5 118.5h0M412 119h0M412 119.5h0M412 120h0M412.5 120.5h0M412.5 121h0M412.5 121.5h0M413 122h0M413 122.5h0M413 123h0M413 123.5h0.5M413.5 124h0M413.5 124.5h0M413.5 125h0.5M414 125.5h0M414 126h0M414 126.5h0.5M414.5 127h0M414.5 127.5h0M414.5 128h0.5M415 128.5h0M415 129h0M415 129.5h0.5M415.5 130h0M415.5 130.5h0M416 131h0M416 131.5h0M416 132h0.5M416.5 132.5h0M416.5 133h0M417 133.5h0M417 134h0M417 134.5h0.5M417.5 135h0M417.5 135.5h0.5M418 136h0M418 136.5h0M418.5 137h0M418.5 137.5h0M418.5 138h0.5M419 138.5h0M419 139h0M419.5 139.5h0M419.5 140h0M420 140.5h0M420 141h0M420 141.5h0.5M420.5 142h0M420.5 142.5h0.5M421 143h0M421 143.5h0.5M421.5 144h0M421.5 144.5h0M421.5 145h0.5M422 145.5h0M422 146h0.5M422.5 146.5h0M422.5 147h0.5M423 147.5h0M423 148h0M423.5 148.5h0M423.5 149h0M423.5 149.5h0.5M453 149.5h4M424 150h0M449.5 150h3.5M457.5 150h4M424 150.5h0.5M446.5 150.5h3M461.5 150.5h4.5M424.5 151h0M444 151h2M466 151h3.5M424.5 151.5h0.5M442.5 151.5h1.5M470 151.5h3.5M425 152h0M441.5 152h1M473.5 152h2.5M425 152.5h0.5M441 152.5h0.5M476 152.5h1.5M425.5 153h0M440 153h0.5M478 153h1M425.5 153.5h0.5M439.5 153.5h0.5M479 153.5h1M426 154h0M439 154h0.5M480 154h1M426.5 154.5h0M438.5 154.5h0.5M481 154.5h1M426.5 155h0M438.5 155h0M482 155h0.5M427 155.5h0M438.5 155.5h0M483 155.5h0.5M427 156h0.5M438 156h0M483.5 156h0.5M427.5 156.5h0M438 156.5h0M484.5 156.5h0.5M427.5 157h0.5M438 157h0M485 157h1M428 157.5h0M437.5 157.5h0M486 157.5h0.5M428.5 158h0M437.5 158h0M486.5 158h0.5M428.5 158.5h0.5M430.5 158.5h4M437.5 158.5h0M487 158.5h0.5M429 159h1.5M434.5 159h3M488 159h0.5M429.5 159.5h0M436 159.5h1M488.5 159.5h0M489 160h0.5M489.5 160.5h0.5M490 161h0M490.5 161.5h0.5M491 162h0.5M491.5 162.5h0.5M492 163h0.5M492.5 163.5h0.5M493 164h0.5M493.5 164.5h0.5M494 165h0M494.5 165.5h0.5M495 166h0.5M495.5 166.5h0.5M496 167h0.5M496.5 167.5h0.5M497 168h0.5M497.5 168.5h0.5M498.5 169h0M499 169.5h0.5M499.5 170h0.5M500 170.5h0.5M500.5 171h0.5M501 171.5h0.5M502 172h0M502.5 172.5h0.5M503 173h0.5M503.5 173.5h0.5M504 174h0.5M505 174.5h0.5M505.5 175h0.5M506.5 175.5h0.5M507 176h0.5M507.5 176.5h1M508.5 177h0.5M509 177.5h1M510 178h1M511 178.5h0.5M512 179h0.5M513 179.5h0.5M513.5 180h1M514.5 180.5h0.5M515 181h1M516 181.5h1M517 182h0.5M518 182.5h0.5M518.5 183h1M519.5 183.5h0.5M520.5 184h0.5M521 184.5h0.5M522 185h0.5M522.5 185.5h0.5M523.5 186h0.5M524 186.5h0.5M525 187h0.5M526 187.5h0.5M526.5 188h1M528 188.5h0.5M528.5 189h1M529.5 189.5h1M530.5 190h0.5M531.5 190.5h0.5M532.5 191h0.5M533 191.5h1M534.5 192h0.5M535.5 192.5h1M536.5 193h1M537.5 193.5h1M538.5 194h1.5M540 194.5h1M541 195h1M542.5 195.5h1M543.5 196h1.5M545 196.5h1.5M546.5 197h1.5M548.5 197.5h1M549.5 198h1.5M551 198.5h1.5M552.5 199h1.5M554 199.5h1.5M555.5 200h1.5M557 200.5h1.5M558.5 201h1.5M560 201.5h1.5M561.5 202h1M562.5 202.5h1M563.5 203h1M565 203.5h1M566 204h1M567 204.5h0.5M568 205h1M569 205.5h1M570 206h1M571 206.5h1M572 207h1M573 207.5h1M574 208h1M575.5 208.5h0.5M576.5 209h1M577.5 209.5h1M578.5 210h0.5M579.5 210.5h0.5M580.5 211h0.5M581.5 211.5h0.5M582 212h1M583 212.5h0.5M583.5 213h0M584 213.5h0M584 214h0.5M584.5 214.5h0M585 215h0M585 215.5h0M585 216h0M585 216.5h0M585 217h0M585 217.5h0M585 218h0M585 218.5h0M585 219h0M585 219.5h0M584.5 220h0M584 220.5h0.5M584 221h0M583.5 221.5h0.5M583 222h0.5M582.5 222.5h0.5M582.5 223h0M582 223.5h0.5M581.5 224h0.5M581 224.5h0.5M580.5 225h0.5M580 225.5h0.5M579.5 226h0.5M579 226.5h0.5M578.5 227h0.5M578 227.5h0.5M577.5 228h0.5M577 228.5h0.5M576.5 229h0.5M576 229.5h0.5M575.5 230h0.5M575 230.5h0M574.5 231h0M574 231.5h0M573.5 232h0M573 232.5h0.5M572.5 233h0.5M572 233.5h0.5M571.5 234h0.5M571 234.5h0.5M570.5 235h0.5M570 235.5h0.5M569.5 236h0.5M569 236.5h0.5M568.5 237h0.5M567.5 237.5h1M567 238h0.5M566.5 238.5h0.5M566 239h0.5M565.5 239.5h0.5M565.5 240h0M565 240.5h0M564.5 241h0.5M564 241.5h0.5M563.5 242h0.5M563 242.5h0.5M562.5 243h0.5M562 243.5h0.5M561.5 244h0.5M561.5 244.5h0M561 245h0M560.5 245.5h0.5M560.5 246h0M560 246.5h0M559.5 247h0.5M559.5 247.5h0M559.5 248h0M559 248.5h0M559 249h0M558.5 249.5h0.5M558.5 250h0M558.5 250.5h0M558 251h0.5M558 251.5h0M557.5 252h0.5M557.5 252.5h0M557.5 253h0M557 253.5h0.5M557 254h0M556.5 254.5h0.5M556.5 255h0M556 255.5h0.5M556 256h0M555.5 256.5h0.5M555 257h0.5M554.5 257.5h0.5M554 258h0.5M554 258.5h0M554 259h0M554 259.5h0M554 260h0M554 260.5h0M554 261h0M553.5 261.5h0M553.5 262h0M553.5 262.5h0M553.5 263h0" stroke="#000000" stroke-width="2.00" stroke-linecap="round" fill="none"/></g><rect x="35.50" y="3.50" width="272.00" height="266.64" fill="none" stroke="#a2a2a2" stroke-width="1"/><line x1="31.50" y1="3.50" x2="35.50" y2="3.50" stroke="#a2a2a2" stroke-width="1"/><text x="29.60" y="7.05" text-anchor="end" class="tk">8</text><line x1="31.50" y1="39.05" x2="35.50" y2="39.05" stroke="#a2a2a2" stroke-width="1"/><text x="29.60" y="42.60" text-anchor="end" class="tk">10</text><line x1="31.50" y1="74.60" x2="35.50" y2="74.60" stroke="#a2a2a2" stroke-width="1"/><text x="29.60" y="78.15" text-anchor="end" class="tk">12</text><line x1="31.50" y1="110.16" x2="35.50" y2="110.16" stroke="#a2a2a2" stroke-width="1"/><text x="29.60" y="113.71" text-anchor="end" class="tk">14</text><line x1="31.50" y1="145.71" x2="35.50" y2="145.71" stroke="#a2a2a2" stroke-width="1"/><text x="29.60" y="149.26" text-anchor="end" class="tk">16</text><line x1="31.50" y1="181.26" x2="35.50" y2="181.26" stroke="#a2a2a2" stroke-width="1"/><text x="29.60" y="184.81" text-anchor="end" class="tk">18</text><line x1="31.50" y1="216.81" x2="35.50" y2="216.81" stroke="#a2a2a2" stroke-width="1"/><text x="29.60" y="220.36" text-anchor="end" class="tk">20</text><line x1="31.50" y1="252.36" x2="35.50" y2="252.36" stroke="#a2a2a2" stroke-width="1"/><text x="29.60" y="255.91" text-anchor="end" class="tk">22</text><line x1="49.66" y1="270.14" x2="49.66" y2="273.94" stroke="#a2a2a2" stroke-width="1"/><text x="49.66" y="282.84" text-anchor="middle" class="tk">1.2</text><line x1="94.63" y1="270.14" x2="94.63" y2="273.94" stroke="#a2a2a2" stroke-width="1"/><text x="94.63" y="282.84" text-anchor="middle" class="tk">1.4</text><line x1="139.60" y1="270.14" x2="139.60" y2="273.94" stroke="#a2a2a2" stroke-width="1"/><text x="139.60" y="282.84" text-anchor="middle" class="tk">1.6</text><line x1="184.57" y1="270.14" x2="184.57" y2="273.94" stroke="#a2a2a2" stroke-width="1"/><text x="184.57" y="282.84" text-anchor="middle" class="tk">1.8</text><line x1="229.54" y1="270.14" x2="229.54" y2="273.94" stroke="#a2a2a2" stroke-width="1"/><text x="229.54" y="282.84" text-anchor="middle" class="tk">2.0</text><line x1="274.50" y1="270.14" x2="274.50" y2="273.94" stroke="#a2a2a2" stroke-width="1"/><text x="274.50" y="282.84" text-anchor="middle" class="tk">2.2</text><text x="171.50" y="295.6" text-anchor="middle" class="lb">NIRC2 J - Kp (mag)</text><text transform="translate(9.20,136.32) rotate(-90)" text-anchor="middle" class="lb">NIRC2 J (mag)</text><rect x="362.50" y="3.50" width="272.00" height="266.64" fill="none" stroke="#a2a2a2" stroke-width="1"/><line x1="358.50" y1="3.50" x2="362.50" y2="3.50" stroke="#a2a2a2" stroke-width="1"/><text x="356.60" y="7.05" text-anchor="end" class="tk">8</text><line x1="358.50" y1="39.05" x2="362.50" y2="39.05" stroke="#a2a2a2" stroke-width="1"/><text x="356.60" y="42.60" text-anchor="end" class="tk">10</text><line x1="358.50" y1="74.60" x2="362.50" y2="74.60" stroke="#a2a2a2" stroke-width="1"/><text x="356.60" y="78.15" text-anchor="end" class="tk">12</text><line x1="358.50" y1="110.16" x2="362.50" y2="110.16" stroke="#a2a2a2" stroke-width="1"/><text x="356.60" y="113.71" text-anchor="end" class="tk">14</text><line x1="358.50" y1="145.71" x2="362.50" y2="145.71" stroke="#a2a2a2" stroke-width="1"/><text x="356.60" y="149.26" text-anchor="end" class="tk">16</text><line x1="358.50" y1="181.26" x2="362.50" y2="181.26" stroke="#a2a2a2" stroke-width="1"/><text x="356.60" y="184.81" text-anchor="end" class="tk">18</text><line x1="358.50" y1="216.81" x2="362.50" y2="216.81" stroke="#a2a2a2" stroke-width="1"/><text x="356.60" y="220.36" text-anchor="end" class="tk">20</text><line x1="358.50" y1="252.36" x2="362.50" y2="252.36" stroke="#a2a2a2" stroke-width="1"/><text x="356.60" y="255.91" text-anchor="end" class="tk">22</text><line x1="369.96" y1="270.14" x2="369.96" y2="273.94" stroke="#a2a2a2" stroke-width="1"/><text x="369.96" y="282.84" text-anchor="middle" class="tk">1.0</text><line x1="403.25" y1="270.14" x2="403.25" y2="273.94" stroke="#a2a2a2" stroke-width="1"/><text x="403.25" y="282.84" text-anchor="middle" class="tk">1.2</text><line x1="436.54" y1="270.14" x2="436.54" y2="273.94" stroke="#a2a2a2" stroke-width="1"/><text x="436.54" y="282.84" text-anchor="middle" class="tk">1.4</text><line x1="469.83" y1="270.14" x2="469.83" y2="273.94" stroke="#a2a2a2" stroke-width="1"/><text x="469.83" y="282.84" text-anchor="middle" class="tk">1.6</text><line x1="503.13" y1="270.14" x2="503.13" y2="273.94" stroke="#a2a2a2" stroke-width="1"/><text x="503.13" y="282.84" text-anchor="middle" class="tk">1.8</text><line x1="536.42" y1="270.14" x2="536.42" y2="273.94" stroke="#a2a2a2" stroke-width="1"/><text x="536.42" y="282.84" text-anchor="middle" class="tk">2.0</text><line x1="569.71" y1="270.14" x2="569.71" y2="273.94" stroke="#a2a2a2" stroke-width="1"/><text x="569.71" y="282.84" text-anchor="middle" class="tk">2.2</text><line x1="603.00" y1="270.14" x2="603.00" y2="273.94" stroke="#a2a2a2" stroke-width="1"/><text x="603.00" y="282.84" text-anchor="middle" class="tk">2.4</text><text x="498.50" y="295.6" text-anchor="middle" class="lb">NIRC2 J - Kp (mag)</text><text transform="translate(336.20,136.32) rotate(-90)" text-anchor="middle" class="lb">NIRC2 J (mag)</text><rect x="188.40" y="8.3" width="114.40" height="27" rx="2" ry="2" fill="#ffffff" fill-opacity="0.8" stroke="#dadada" stroke-width="1"/><circle cx="200.20" cy="14.30" r="1.1" fill="#ff0000"/><text x="217.80" y="17.40" class="lg">With Multiples</text><circle cx="200.20" cy="28.10" r="1.1" fill="#000000"/><text x="217.80" y="31.70" class="lg">Without Multiples</text><rect x="490.70" y="8.3" width="139.30" height="27" rx="2" ry="2" fill="#ffffff" fill-opacity="0.8" stroke="#dadada" stroke-width="1"/><circle cx="502.50" cy="14.30" r="1.1" fill="#ff0000"/><text x="520.10" y="17.40" class="lg">With dAKs = 0.05 mag</text><circle cx="502.50" cy="28.10" r="1.1" fill="#000000"/><text x="520.10" y="31.70" class="lg">With dAKs = 0 mag</text></svg>
</body></html>
